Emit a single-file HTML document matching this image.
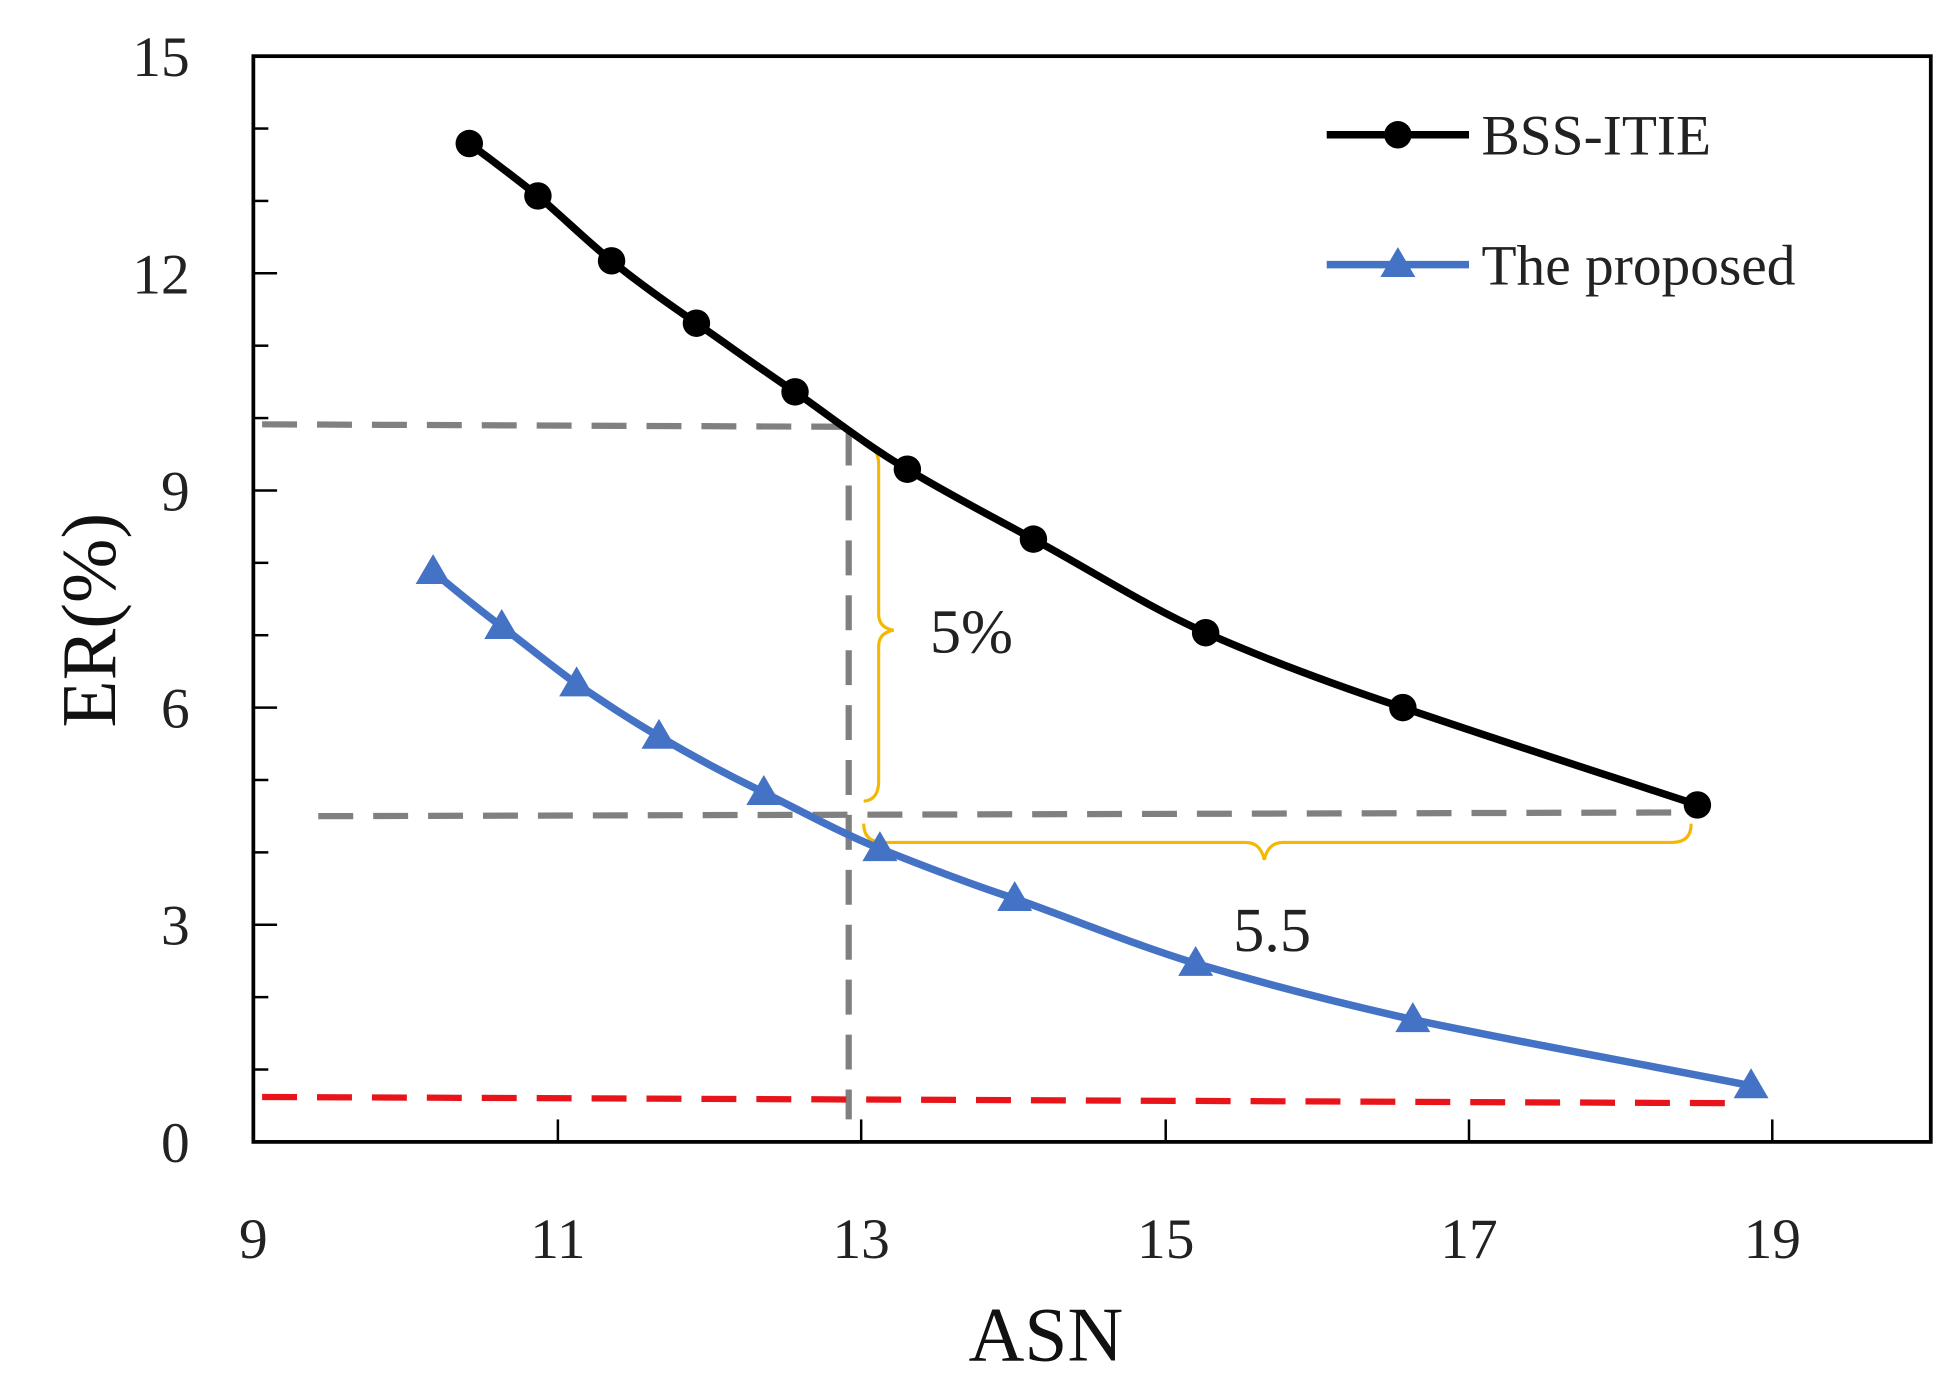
<!DOCTYPE html>
<html><head><meta charset="utf-8"><style>html,body{margin:0;padding:0;background:#fff;}svg{display:block}</style></head>
<body>
<svg width="1957" height="1389" viewBox="0 0 1568 1113" preserveAspectRatio="none" xmlns="http://www.w3.org/2000/svg" font-family="Liberation Serif, serif">
<rect width="1568" height="1113" fill="#fff"/>
<rect x="203" y="45" width="1344" height="870" fill="none" stroke="#000" stroke-width="3"/>
<g stroke="#000" stroke-width="2">
<line x1="203" y1="857" x2="215" y2="857"/><line x1="203" y1="799" x2="215" y2="799"/><line x1="203" y1="741" x2="222" y2="741"/>
<line x1="203" y1="683" x2="215" y2="683"/><line x1="203" y1="625" x2="215" y2="625"/><line x1="203" y1="567" x2="222" y2="567"/>
<line x1="203" y1="509" x2="215" y2="509"/><line x1="203" y1="451" x2="215" y2="451"/><line x1="203" y1="393" x2="222" y2="393"/>
<line x1="203" y1="335" x2="215" y2="335"/><line x1="203" y1="277" x2="215" y2="277"/><line x1="203" y1="219" x2="222" y2="219"/>
<line x1="203" y1="161" x2="215" y2="161"/><line x1="203" y1="103" x2="215" y2="103"/>
<line x1="447" y1="915" x2="447" y2="897"/><line x1="690" y1="915" x2="690" y2="897"/><line x1="934" y1="915" x2="934" y2="897"/><line x1="1177" y1="915" x2="1177" y2="897"/><line x1="1420" y1="915" x2="1420" y2="897"/>
</g>
<g font-size="46" fill="#222" text-anchor="end">
<text x="152" y="931">0</text><text x="152" y="757">3</text><text x="152" y="583">6</text><text x="152" y="409">9</text><text x="152" y="235">12</text><text x="152" y="61">15</text>
</g>
<g font-size="46" fill="#222" text-anchor="middle">
<text x="203" y="1008">9</text><text x="447" y="1008">11</text><text x="690" y="1008">13</text><text x="934" y="1008">15</text><text x="1177" y="1008">17</text><text x="1420" y="1008">19</text>
</g>
<text x="838" y="1090" font-size="62" text-anchor="middle" fill="#111">ASN</text>
<text transform="translate(92,497) rotate(-90)" font-size="62" text-anchor="middle" fill="#111">ER(%)</text>
<g stroke="#808080" stroke-width="5" stroke-dasharray="28,16" fill="none">
<line x1="210" y1="340" x2="680" y2="342"/>
<line x1="680" y1="345" x2="680" y2="897"/>
<line x1="255" y1="654" x2="1360" y2="651"/>
</g>
<line x1="210" y1="879" x2="1390" y2="884" stroke="#e8141a" stroke-width="5" stroke-dasharray="28,16"/>
<g stroke="#f5b800" stroke-width="2.5" fill="none">
<path d="M692,356 Q704,358 704,372 L704,492 Q704,503 716,505 Q704,507 704,518 L704,626 Q704,641 692,642"/>
<path d="M692,660 Q692,675 708,675 L998,675 Q1010,675 1013,689 Q1016,675 1028,675 L1340,675 Q1355,675 1355,660"/>
</g>
<text x="745" y="523" font-size="50" fill="#222">5%</text>
<text x="988" y="762" font-size="50" fill="#222">5.5</text>
<path d="M376,115 C395,129 412,142 431,157 C451,174 469,192 490,209 C512,227 535,243 558,259 C584,277 610,296 637,314 C667,335 696,358 727,376 C760,396 793,413 828,432 C874,457 919,486 966,507 C1018,530 1070,549 1124,567 C1203,594 1281,619 1360,645" fill="none" stroke="#000" stroke-width="6" stroke-linejoin="round"/>
<g fill="#000">
<circle cx="376" cy="115" r="11"/><circle cx="431" cy="157" r="11"/><circle cx="490" cy="209" r="11"/><circle cx="558" cy="259" r="11"/><circle cx="637" cy="314" r="11"/><circle cx="727" cy="376" r="11"/><circle cx="828" cy="432" r="11"/><circle cx="966" cy="507" r="11"/><circle cx="1124" cy="567" r="11"/><circle cx="1360" cy="645" r="11"/>
</g>
<path d="M347,458 C365,473 383,488 402,502 C422,517 441,533 462,548 C483,562 505,577 528,590 C555,606 583,621 612,635 C642,650 673,667 705,680 C740,694 776,708 813,720 C861,737 909,757 958,772 C1016,789 1074,804 1132,817 C1222,836 1313,852 1403,870" fill="none" stroke="#4472c4" stroke-width="6" stroke-linejoin="round"/>
<g fill="#4472c4">
<path d="M347,444 l14,24 h-28z"/><path d="M402,488 l14,24 h-28z"/><path d="M462,534 l14,24 h-28z"/><path d="M528,576 l14,24 h-28z"/><path d="M612,621 l14,24 h-28z"/><path d="M705,666 l14,24 h-28z"/><path d="M813,706 l14,24 h-28z"/><path d="M958,758 l14,24 h-28z"/><path d="M1132,803 l14,24 h-28z"/><path d="M1403,856 l14,24 h-28z"/>
</g>
<line x1="1063" y1="108" x2="1177" y2="108" stroke="#000" stroke-width="6"/>
<circle cx="1120" cy="108" r="11" fill="#000"/>
<text x="1187" y="124" font-size="46" fill="#222">BSS-ITIE</text>
<line x1="1063" y1="212" x2="1177" y2="212" stroke="#4472c4" stroke-width="6"/>
<path d="M1120,198 l14,24 h-28z" fill="#4472c4"/>
<text x="1187" y="228" font-size="46" fill="#222">The proposed</text>
</svg>
</body></html>
